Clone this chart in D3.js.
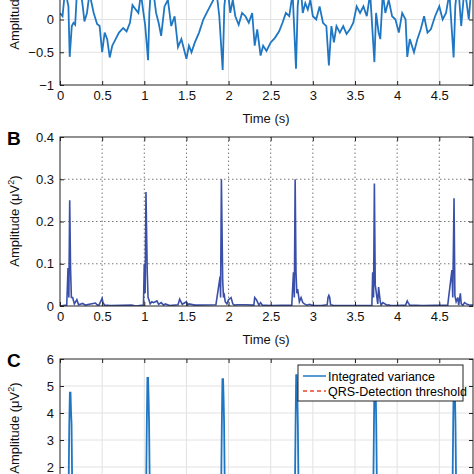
<!DOCTYPE html><html><head><meta charset="utf-8">
<script src="https://cdn.jsdelivr.net/npm/d3@7"></script>
<style>body{margin:0;background:#fff}text{font-family:"Liberation Sans",Arial,sans-serif}</style></head><body>
<svg id="s" width="474" height="474"></svg>
<script>
const xTicks=[0,0.5,1,1.5,2,2.5,3,3.5,4,4.5];
const ecgT=[0,0.03,0.06,0.1,0.115,0.14,0.16,0.18,0.2,0.24,0.27,0.29,0.32,0.35,0.4,0.44,0.47,0.5,0.53,0.56,0.59,0.62,0.66,0.7,0.75,0.79,0.83,0.86,0.9,0.93,0.96,0.99,1.01,1.045,1.06,1.08,1.11,1.14,1.17,1.2,1.24,1.28,1.32,1.36,1.4,1.44,1.5,1.53,1.56,1.6,1.65,1.7,1.74,1.78,1.82,1.85,1.89,1.93,1.95,1.98,2.02,2.05,2.08,2.12,2.16,2.2,2.24,2.28,2.31,2.34,2.38,2.41,2.45,2.5,2.55,2.6,2.64,2.68,2.72,2.76,2.8,2.82,2.85,2.88,2.91,2.94,2.97,3.0,3.04,3.08,3.12,3.16,3.19,3.22,3.25,3.28,3.32,3.36,3.4,3.44,3.48,3.52,3.56,3.6,3.64,3.68,3.73,3.75,3.78,3.8,3.83,3.86,3.9,3.94,3.98,4.02,4.06,4.1,4.12,4.15,4.2,4.24,4.28,4.32,4.36,4.4,4.45,4.5,4.54,4.58,4.62,4.67,4.69,4.72,4.76,4.8,4.85,4.88];
const ecgV=[0.1,0.05,0.45,0.2,-0.57,-0.1,-0.05,-0.08,0.4,0.5,0.2,-0.03,0.1,0.4,0.1,-0.07,-0.1,-0.5,-0.2,-0.3,-0.58,-0.4,-0.3,-0.2,-0.13,-0.18,-0.05,0.22,0.15,0.1,0.4,0.1,-0.08,-0.62,0.1,0.5,0.4,0.1,-0.05,-0.25,0.2,0.3,-0.1,0.05,-0.42,-0.3,-0.6,-0.4,-0.5,-0.35,-0.2,0.0,0.1,0.2,0.3,0.5,0.05,-0.77,0.2,0.6,0.1,0.3,0.05,-0.08,0.1,0.05,-0.05,0.1,-0.4,-0.15,-0.55,-0.4,-0.48,-0.35,-0.28,-0.18,-0.05,0.1,0.05,0.4,-0.75,0.2,0.6,0.1,0.25,0.15,0.3,0.05,0.0,0.2,-0.05,-0.1,-0.7,-0.1,-0.35,-0.1,-0.2,-0.1,-0.22,-0.15,-0.05,0.2,0.1,0.2,0.05,0.4,-0.65,0.1,-0.2,-0.3,0.4,0.1,0.3,0.05,0.0,-0.2,0.1,0.0,-0.57,-0.3,-0.5,-0.3,-0.15,0.05,-0.2,-0.15,0.05,0.2,0.0,0.1,0.4,-0.58,0.2,0.6,-0.1,0.5,0.0,0.5];
const varT=[0,0.08,0.095,0.105,0.115,0.125,0.135,0.15,0.17,0.2,0.22,0.27,0.3,0.42,0.44,0.46,0.5,0.51,0.53,0.6,0.85,0.9,0.99,1.0,1.01,1.02,1.035,1.045,1.055,1.07,1.09,1.11,1.15,1.17,1.2,1.23,1.25,1.3,1.4,1.42,1.45,1.5,1.51,1.53,1.6,1.85,1.9,1.905,1.915,1.93,1.94,1.95,1.96,1.98,2.0,2.03,2.05,2.07,2.1,2.2,2.3,2.31,2.33,2.36,2.38,2.4,2.5,2.75,2.77,2.78,2.79,2.8,2.81,2.82,2.84,2.86,2.88,2.9,2.93,2.96,3.0,3.1,3.17,3.18,3.19,3.2,3.21,3.25,3.5,3.7,3.71,3.72,3.73,3.74,3.75,3.77,3.78,3.8,3.81,3.83,3.88,3.9,3.92,4.0,4.1,4.12,4.13,4.15,4.3,4.6,4.65,4.66,4.675,4.685,4.7,4.72,4.73,4.75,4.76,4.78,4.8,4.82,4.85,4.9];
const varV=[0,0.002,0.09,0.02,0.25,0.09,0.02,0.02,0.005,0.015,0.003,0.006,0.002,0.007,0.003,0.001,0.018,0.008,0.002,0.001,0.002,0,0.002,0.1,0.03,0.27,0.08,0.02,0.015,0.005,0.01,0.008,0.012,0.004,0.008,0.002,0.005,0.001,0.003,0.016,0.004,0.01,0.002,0.005,0.002,0.003,0.07,0.02,0.3,0.06,0.02,0.025,0.01,0.005,0.015,0.02,0.005,0.002,0.003,0.003,0.002,0.02,0.015,0.002,0.008,0.002,0.001,0.002,0.08,0.02,0.3,0.08,0.03,0.04,0.01,0.02,0.008,0.005,0.002,0.004,0.001,0.001,0.003,0.02,0.025,0.02,0.003,0.001,0.001,0.001,0.08,0.02,0.29,0.05,0.035,0.005,0.045,0.01,0.002,0.008,0.002,0.003,0.001,0.001,0.002,0.012,0.008,0.002,0.001,0.002,0.085,0.02,0.255,0.025,0.01,0.02,0.002,0.03,0.005,0.002,0.008,0.005,0.003,0.002];
const peakT=[0.125,1.045,1.935,2.81,3.74,4.68];
const peakV=[4.75,5.3,5.25,5.4,5.5,5.4];
const ivT=[],ivV=[];
ivT.push(0);ivV.push(0);
peakT.forEach((t,i)=>{const p=peakV[i];
 [[-0.04,0],[-0.025,0.5],[-0.015,3.6],[-0.008,p],[0,p],[0.006,4.3],[0.012,3.6],[0.02,1.2],[0.03,0],].forEach(([d,v])=>{ivT.push(t+d);ivV.push(v===p?p:(v===4.3?p-0.7:v));});});
ivT.push(4.9);ivV.push(0);

const svg=d3.select("#s");
const x=d3.scaleLinear().domain([0,4.9]).range([60,473]);
function panel(y,yTicks,fmt,grid,color,tt,tv,lbl,lblY,letter,letterY,xlab){
 const g=svg.append("g");
 const [y0,y1]=y.range();
 const cid="c"+Math.round(y0);
 svg.append("clipPath").attr("id",cid).append("rect").attr("x",60).attr("y",y1).attr("width",413).attr("height",y0-y1);
 xTicks.forEach(t=>{if(t>0)g.append("line").attr("x1",x(t)).attr("x2",x(t)).attr("y1",y0).attr("y2",y1).attr("stroke",grid?"#555":"#e2e2e2").attr("stroke-dasharray",grid?"1.5,2.5":null).attr("stroke-width",grid?0.8:1);});
 yTicks.forEach(t=>{const yy=y(t);if(Math.abs(yy-y0)>1&&Math.abs(yy-y1)>1)g.append("line").attr("x1",60).attr("x2",473).attr("y1",yy).attr("y2",yy).attr("stroke",grid?"#555":"#e2e2e2").attr("stroke-dasharray",grid?"1.5,2.5":null).attr("stroke-width",grid?0.8:1);});
 g.append("path").attr("clip-path",`url(#${cid})`).attr("d",d3.line().x((d,i)=>x(tt[i])).y(d=>y(d))(tv)).attr("fill","none").attr("stroke",color).attr("stroke-width",grid?1.6:1.8);
 g.append("rect").attr("x",60).attr("y",y1).attr("width",413).attr("height",y0-y1).attr("fill","none").attr("stroke","#222").attr("stroke-width",1);
 g.append("g").attr("transform",`translate(0,${y0})`).call(d3.axisBottom(x).tickValues(xTicks).tickFormat(d3.format("")).tickSize(-4).tickPadding(6)).call(a=>{a.select(".domain").remove();a.selectAll("text").attr("font-size",13).attr("fill","#111");a.selectAll("line").attr("stroke","#222");});
 g.append("g").attr("transform",`translate(0,${y1})`).call(d3.axisTop(x).tickValues(xTicks).tickFormat("").tickSize(-4)).call(a=>{a.select(".domain").remove();a.selectAll("line").attr("stroke","#222");});
 g.append("g").attr("transform","translate(60,0)").call(d3.axisLeft(y).tickValues(yTicks).tickFormat(fmt).tickSize(-4).tickPadding(6)).call(a=>{a.select(".domain").remove();a.selectAll("text").attr("font-size",13).attr("fill","#111");a.selectAll("line").attr("stroke","#222");});
 g.append("g").attr("transform","translate(473,0)").call(d3.axisRight(y).tickValues(yTicks).tickFormat("").tickSize(-4)).call(a=>{a.select(".domain").remove();a.selectAll("line").attr("stroke","#222");});
 const yl=g.append("text").attr("transform",`translate(19,${lblY}) rotate(-90)`).attr("text-anchor","middle").attr("font-size",13).attr("fill","#111");
 lbl(yl);
 if(letter)g.append("text").attr("x",7).attr("y",letterY).attr("font-size",19).attr("font-weight","bold").text(letter);
 if(xlab)g.append("text").attr("x",266).attr("y",y0+38).attr("text-anchor","middle").attr("font-size",13).attr("fill","#111").text("Time (s)");
}
const minus=d=>d3.format("")(d).replace("-","\u2212");
const yA=d3.scaleLinear().domain([-1,1]).range([85,-46]);
panel(yA,[-1,-0.5,0],minus,false,"#1f77c4",ecgT,ecgV,t=>t.text("Amplitude (mV)"),5,null,0,true);
const yB=d3.scaleLinear().domain([0,0.4]).range([306,137]);
panel(yB,[0,0.1,0.2,0.3,0.4],d3.format(""),true,"#3a4fa8",varT,varV,t=>{t.append("tspan").text("Amplitude (\u03bcV");t.append("tspan").attr("baseline-shift","super").attr("font-size",9).text("2");t.append("tspan").text(")");},221,"B",145,true);
const yC=d3.scaleLinear().domain([0,6]).range([521,359]);
panel(yC,[0,1,2,3,4,5,6],d3.format(""),false,"#1f77c4",ivT,ivV,t=>{t.append("tspan").text("Amplitude (\u03bcV");t.append("tspan").attr("baseline-shift","super").attr("font-size",9).text("2");t.append("tspan").text(")");},428,"C",367,false);
const lg=svg.append("g");
lg.append("rect").attr("x",298).attr("y",365).attr("width",165).attr("height",36).attr("fill","#fff").attr("stroke","#222");
lg.append("line").attr("x1",303).attr("x2",326).attr("y1",376).attr("y2",376).attr("stroke","#1f77c4").attr("stroke-width",1.5);
lg.append("line").attr("x1",303).attr("x2",326).attr("y1",391).attr("y2",391).attr("stroke","#e8462a").attr("stroke-width",1.5).attr("stroke-dasharray","4,3");
lg.append("text").attr("x",328).attr("y",381).attr("font-size",12.5).text("Integrated variance");
lg.append("text").attr("x",328).attr("y",396).attr("font-size",12.5).text("QRS-Detection threshold");
</script></body></html>
